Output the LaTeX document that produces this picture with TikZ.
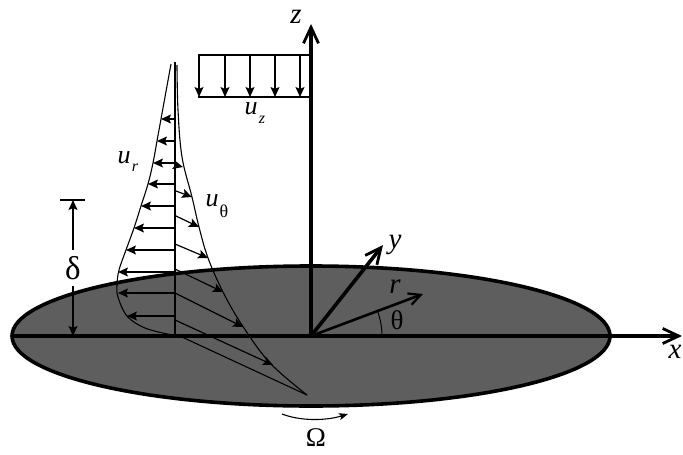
\documentclass[tikz,border=0pt]{standalone}
\usepackage{fontspec}
\setmainfont{Liberation Serif}
\usetikzlibrary{arrows.meta}
\tikzset{
  lab/.style={inner sep=0pt,font=\fontsize{29}{29}\selectfont\itshape},
  ulab/.style={inner sep=0pt,font=\fontsize{26}{26}\selectfont\itshape},
  sublab/.style={inner sep=0pt,font=\fontsize{16}{16}\selectfont\itshape},
  grk/.style={inner sep=0pt,font=\fontsize{27}{27}\selectfont},
  grkd/.style={inner sep=0pt,font=\fontsize{33}{33}\selectfont},
  grksub/.style={inner sep=0pt,font=\fontsize{18}{18}\selectfont},
  thin arrow/.style={line width=1.2pt,-{Stealth[length=10pt,width=9pt,inset=2pt]}},
  axis/.style={line width=3.6pt,-{Straight Barb[length=16pt,width=15pt,line width=2.8pt]}},
  prof/.style={line width=1.1pt},
}
\begin{document}
\begin{tikzpicture}[x=1pt,y=-1pt]
\useasboundingbox (0,0) rectangle (683,455);
\coordinate (O) at (311,336);
% disc
\draw[line width=3.6pt,fill=black!63] (O) ellipse [x radius=299,y radius=70];
% boundary layer thickness
\coordinate (dt) at (73,200);
\coordinate (db) at (73,336);
\node[grkd] (delta) at (73,268) {δ};
\draw[line width=1.4pt] (60,200) -- (85,200);
\draw[thin arrow] (73,250) -- (dt);
\draw[thin arrow] (73,286) -- (db);
% profile axis
\coordinate (pt) at (175,62);
\coordinate (pb) at (175,336);
\draw[line width=2.4pt] (pt) -- (pb);
% u_r profile
\draw[prof] plot[smooth,tension=0.6] coordinates {(171,64) (161,119) (157,141) (153,163) (148,184) (141,206) (134,228) (126,250) (119,270) (117,285) (118,297) (127,316) (145,328) (172,335)};
% u_r arrows
\foreach \y/\x in {119/161,141/157,163/153,184/148,206/141,228/134,250/126,272/118,293/118,316/127}{
  \draw[thin arrow] (175,\y) -- (\x,\y);
}
% u_theta profile
\draw[prof] plot[smooth,tension=0.6] coordinates {(177,65) (178,110) (182,157) (192,197) (199,227) (208,258) (223,292) (242,325) (270,363) (307,395)};
\foreach \a/\b/\c/\d in {175/165/183/167,176/191/192/197,176/216/199/227,175/244/208/258,175/269/223/292,175/293/243/327,175/320/273/365}{
  \draw[thin arrow] (\a,\b) -- (\c,\d);
}
\draw[prof] (182,337) -- (307,395);
% u_z
\draw[line width=1.4pt] (198,55) -- (311,55);
\draw[line width=1.4pt] (198,97) -- (311,97);
\foreach \x in {199,225,250,275,300}{
  \draw[thin arrow] (\x,55) -- (\x,97);
}
% axes
\coordinate (xl) at (12,336);
\coordinate (xr) at (682,336);
\coordinate (zt) at (311,24);
\coordinate (yt) at (383,245);
\coordinate (rt) at (423,294);
\draw[line width=3.6pt] (xl) -- (O);
\draw[axis] (O) -- (xr);
\draw[axis] (O) -- (zt);
\draw[axis] (O) -- (yt);
\draw[line width=2.6pt,-{Straight Barb[length=12pt,width=12pt,line width=2.2pt]}] (O) -- (rt);
\draw[line width=1pt] (382,336) arc[start angle=0,end angle=-19.5,radius=71];
% rotation
\coordinate (ol) at (282,414);
\coordinate (or) at (348,414);
\draw[line width=1.1pt,-{Stealth[length=9pt,width=7pt,inset=2pt]}] (ol) .. controls (300,421) and (325,421) .. (or);
% labels
\node[lab] (lz) at (296,17) {z};
\node[lab] (ly) at (395,245) {y};
\node[lab] (lr) at (395,287) {r};
\node[lab] (lx) at (675,352) {x};
\node[grk] (lth) at (397,320) {θ};
\node[grk] (lom) at (316,438) {Ω};
\node[ulab] (ur) at (124,158) {u};
\node[sublab] (urs) at (135,168) {r};
\node[ulab] (uz) at (251,109) {u};
\node[sublab] (uzs) at (262,120) {z};
\node[ulab] (ut) at (212,201) {u};
\node[grksub] (uts) at (224,211) {θ};
\end{tikzpicture}
\end{document}
